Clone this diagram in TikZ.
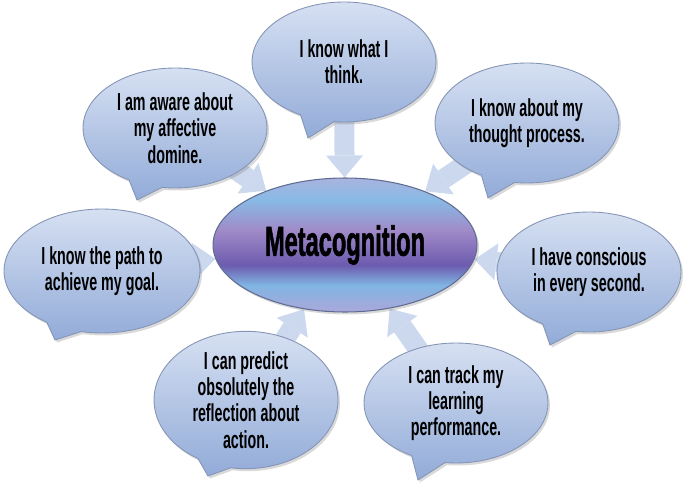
\documentclass[tikz,border=0pt]{standalone}
\usepackage{fontspec}
\setmainfont{Liberation Sans}[FakeStretch=0.58]
\newfontfamily\metafont{Liberation Sans Bold}[FakeStretch=0.56, FakeBold=1.2]
\usepackage{xcolor}
\usetikzlibrary{shapes.geometric, shapes.callouts, arrows.meta, shadows, backgrounds}

\definecolor{bubtop}{HTML}{D6E0F2}
\definecolor{bubbot}{HTML}{92ABD8}
\definecolor{bubline}{HTML}{8595B5}
\definecolor{arrowfill}{HTML}{CCD8EE}
\definecolor{metaline}{HTML}{5F6C92}
\definecolor{metaA}{HTML}{A9B3DF}
\definecolor{metaB}{HTML}{88B9E5}
\definecolor{metaC}{HTML}{A08BC8}
\definecolor{metaD}{HTML}{6C5BAF}
\definecolor{metaE}{HTML}{80B5E3}
\definecolor{metaF}{HTML}{ABA7DA}

\pgfdeclareverticalshading{metashade}{100bp}{color(0bp)=(metaF); color(25bp)=(metaF); color(35bp)=(metaE); color(42.5bp)=(metaD); color(55.6bp)=(metaC); color(66.8bp)=(metaB); color(75bp)=(metaA); color(100bp)=(metaA)}

\begin{document}
\begin{tikzpicture}[
    x=0.02cm, y=-0.02cm,
    bubble/.style={ellipse callout, callout pointer arc=22, draw=bubline, line width=0.5pt, top color=bubtop, bottom color=bubbot, minimum width=3.68cm, minimum height=2.4cm, inner sep=0pt, align=center, font=\bfseries\fontsize{14}{15}\selectfont, drop shadow={opacity=0.3, shadow xshift=0.04cm, shadow yshift=-0.05cm}},
    central/.style={ellipse, draw=metaline, line width=0.6pt, shade, shading=metashade, minimum width=5.28cm, minimum height=2.68cm, inner sep=0pt, font=\metafont\fontsize{24}{28}\selectfont, drop shadow={opacity=0.3, shadow xshift=0.04cm, shadow yshift=-0.05cm}},
    arrow/.style={line width=0.4cm, arrowfill, -{Triangle[length=0.44cm, width=0.74cm, line width=0pt]}}
]
\useasboundingbox (0,0) rectangle (685,486);

% Center
\node[central] (meta) at (345,245) {Metacognition};

% Bubbles
\node[bubble, callout absolute pointer={(308,138)}] (think) at (344,62) {I know what I\\think.};
\node[bubble, callout absolute pointer={(137,200)}] (affect) at (175,128) {I am aware about\\my affective\\domine.};
\node[bubble, callout absolute pointer={(488,198)}] (thought) at (527,123) {I know about my\\thought process.};
\node[bubble, minimum width=3.92cm, minimum height=2.48cm, callout absolute pointer={(55,340)}] (goal) at (102,271) {I know the path to\\achieve my goal.};
\node[bubble, callout absolute pointer={(550,345)}] (conscious) at (589,272) {I have conscious\\in every second.};
\node[bubble, minimum height=2.3cm, callout absolute pointer={(208,476)}] (predict) at (246,400) {I can predict\\obsolutely the\\reflection about\\action.};
\node[bubble, callout absolute pointer={(418,480)}] (track) at (456,403) {I can track my\\learning\\performance.};

% Arrows
\begin{scope}[on background layer]
\draw[arrow] (think.center) -- (meta);
\draw[arrow] (affect.center) -- (meta);
\draw[arrow] (thought.center) -- (meta);
\draw[arrow] (goal.center) -- (meta);
\draw[arrow] (conscious.center) -- (meta);
\draw[arrow] (predict.center) -- (meta);
\draw[arrow] (track.center) -- (meta);
\end{scope}

\end{tikzpicture}
\end{document}
